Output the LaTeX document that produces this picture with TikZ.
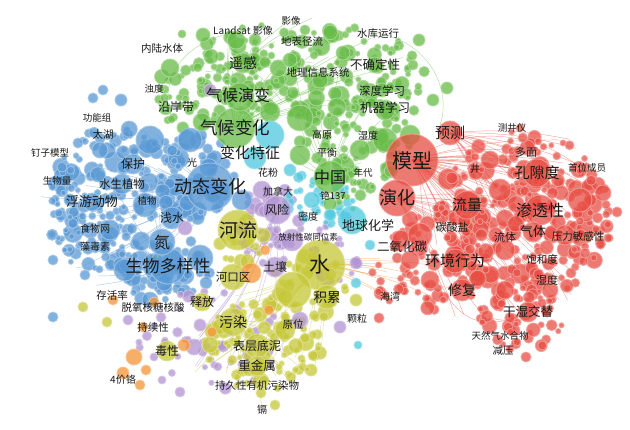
\documentclass[tikz,border=0pt]{standalone}
\usepackage{fontspec}
\newfontfamily\cjk{Noto Sans CJK SC}
\definecolor{cG}{RGB}{104,188,72}
\definecolor{cB}{RGB}{88,152,212}
\definecolor{cR}{RGB}{232,78,68}
\definecolor{cY}{RGB}{198,200,56}
\definecolor{cP}{RGB}{178,148,210}
\definecolor{cO}{RGB}{245,148,52}
\definecolor{cC}{RGB}{78,200,222}
\tikzset{
  lab/.style={inner sep=0pt, text=black!90, font=\cjk\fontsize{#1pt}{#1pt}\selectfont},
  bubfill/.style={fill=#1, fill opacity=0.75, draw=#1!55!white, draw opacity=0.85, line width=0.9pt},
  edge/.style={draw=#1, line width=0.45pt, opacity=0.5}
}
\newcommand\bb[4]{\path[bubfill=#1] (#2,#3) circle[radius=#4pt];}
\newcommand\cloud[8]{%
 \foreach \k in {1,...,#6}{%
  \pgfmathsetmacro\qa{360*rnd}%
  \pgfmathsetmacro\qd{sqrt(rnd)}%
  \pgfmathsetmacro\qr{#7+#8*rnd*rnd}%
  \pgfmathsetmacro\qx{#2+#4*\qd*cos(\qa)}%
  \pgfmathsetmacro\qy{#3+#5*\qd*sin(\qa)}%
  \bb{#1}{\qx}{\qy}{\qr}%
 }}
\newcommand\spokes[8]{%
 \foreach \k in {1,...,#8}{%
  \pgfmathsetmacro\qa{360*rnd}%
  \pgfmathsetmacro\qd{sqrt(rnd)}%
  \pgfmathsetmacro\qx{#4+#6*\qd*cos(\qa)}%
  \pgfmathsetmacro\qy{#5+#7*\qd*sin(\qa)}%
  \draw[edge=#1] (#2,#3) to[bend left=8] (\qx,\qy);%
 }}
\begin{document}
\begin{tikzpicture}[x=1pt,y=-1pt]
\useasboundingbox[fill=white] (0,0) rectangle (630,429);
\pgfmathsetseed{7}
% ---------------- edges
\spokes{cG}{235}{128}{300}{70}{110}{50}{25}
\spokes{cG}{330}{177}{330}{110}{70}{60}{15}
\spokes{cG}{243}{63}{280}{60}{90}{45}{12}
\spokes{cB}{210}{187}{120}{200}{80}{80}{30}
\spokes{cB}{168}{266}{120}{230}{70}{60}{15}
\spokes{cR}{412}{160}{520}{220}{90}{90}{40}
\spokes{cR}{450}{133}{540}{220}{80}{90}{15}
\spokes{cR}{397}{198}{500}{260}{80}{70}{15}
\spokes{cY}{320}{265}{265}{340}{70}{50}{20}
\spokes{cY}{233}{322}{250}{350}{70}{50}{15}
\spokes{cP}{277}{210}{230}{330}{80}{60}{12}
\spokes{cO}{320}{265}{400}{280}{40}{30}{8}
\draw[edge=cG] (372,32) .. controls (430,40) and (452,90) .. (440,125);
\draw[edge=cG] (250,30) .. controls (200,35) and (170,60) .. (168,95);
\draw[edge=cR] (420,180) .. controls (430,330) and (480,335) .. (528,312);
\draw[edge=cR] (455,261) .. controls (470,320) and (500,330) .. (528,312);
\draw[edge=cR] (412,160) .. controls (470,120) and (560,130) .. (603,193);
\draw[edge=cO] (320,265) -- (390,297);
\draw[edge=cO] (320,265) -- (455,261);
\draw[edge=cO] (320,265) -- (462,290);
\draw[edge=cY] (257,366) -- (262,410);
% ---------------- random bubbles
\cloud{cG}{300}{70}{110}{50}{170}{2.5}{8}
\cloud{cG}{355}{140}{55}{45}{70}{2.5}{8}
\cloud{cG}{195}{95}{40}{35}{45}{2.5}{6}
\cloud{cG}{400}{80}{25}{40}{22}{2.5}{5}
\cloud{cB}{120}{200}{70}{75}{180}{2.5}{8}
\cloud{cB}{190}{175}{45}{45}{60}{3}{9}
\cloud{cB}{165}{270}{45}{35}{60}{3}{8}
\cloud{cB}{75}{220}{25}{55}{35}{2.5}{4}
\cloud{cP}{270}{225}{35}{40}{45}{2.5}{7}
\cloud{cP}{210}{340}{75}{50}{50}{2.5}{4}
\cloud{cP}{335}{255}{25}{35}{20}{2.5}{5}
\cloud{cC}{320}{200}{35}{30}{35}{2.5}{5}
\cloud{cG}{345}{190}{30}{25}{20}{2.5}{5}
\cloud{cY}{265}{345}{65}{45}{100}{2.5}{7}
\cloud{cY}{310}{290}{40}{35}{35}{3}{8}
\cloud{cY}{240}{240}{25}{25}{15}{3}{6}
\cloud{cR}{525}{215}{85}{85}{230}{2.5}{9}
\cloud{cR}{440}{255}{50}{55}{80}{2.5}{8}
\cloud{cR}{520}{320}{45}{30}{55}{2.5}{6}
\cloud{cR}{590}{220}{25}{40}{22}{3}{6}
\cloud{cR}{392}{282}{22}{22}{14}{3}{5}
% ---------------- hubs green
\foreach \x/\y/\r in {235/128/20,240/97/14,243/63/10,330/177/16,300/118/13,270/112/10,337/107/9,
 375/65/8,385/110/10,382/90/7,410/135/10,360/150/10,300/155/10,170/68/9,290/60/7,343/53/7,
 320/80/8,202/122/9,255/40/6,305/30/5,385/140/12,182/34/4,203/35/7,419/40/6,413/65/5,447/88/6,433/100/6}
 {\bb{cG}{\x}{\y}{\r}}
% hubs blue
\foreach \x/\y/\r in {210/187/24,168/266/18,162/242/13,150/140/14,190/140/12,133/164/10,122/184/10,
 92/202/9,172/218/11,200/258/13,125/270/11,110/230/10,145/205/12,242/200/10,150/300/8,70/200/6,
 100/150/8,103/90/5,93/98/5,121/100/6,78/143/5,62/167/5,53/260/5,85/275/5,53/317/5}
 {\bb{cB}{\x}{\y}{\r}}
% hubs purple
\foreach \x/\y/\r in {277/210/14,275/267/10,292/240/11,262/190/9,194/347/8,300/320/8,340/327/6,
 356/263/6,210/90/6,185/228/7,200/325/6,128/320/5,154/357/4,162/380/4,180/392/5}
 {\bb{cP}{\x}{\y}{\r}}
% hubs cyan
\foreach \x/\y/\r in {270/135/14,255/158/11,352/220/14,312/200/8,330/215/6,356/283/5,358/345/4,
 290/170/6,370/245/5}
 {\bb{cC}{\x}{\y}{\r}}
% hubs yellow
\foreach \x/\y/\r in {320/265/25,238/230/20,233/277/13,327/297/12,293/290/18,233/322/14,257/346/12,
 257/366/10,202/302/9,167/351/10,285/330/10,210/345/8,83/307/5,107/322/5,275/405/5,261/393/5,
 291/377/5,356/300/6}
 {\bb{cY}{\x}{\y}{\r}}
% hubs orange
\foreach \x/\y/\r in {251/273/10,134/357/8,123/373/6,146/370/5,143/327/5,154/302/5,113/300/5,
 184/345/6,212/332/5,269/310/5,265/250/5,140/385/5}
 {\bb{cO}{\x}{\y}{\r}}
% hubs red
\foreach \x/\y/\r in {412/160/26,397/198/18,450/133/12,537/173/14,540/210/15,467/205/14,455/261/12,
 462/290/11,528/312/10,533/232/10,500/190/11,580/200/12,565/235/10,505/250/10,420/235/12,
 490/160/9,430/280/9,550/290/8,505/290/9,410/260/9,617/212/5,603/193/8,585/253/5,571/273/5,
 379/318/5,520/128/4,526/357/5}
 {\bb{cR}{\x}{\y}{\r}}
% ---------------- labels
\node[lab=9.5] (t1) at (291,21) {影像};
\node[lab=10] (t2) at (243,31) {Landsat 影像};
\node[lab=10.5] (t3) at (378,34) {水库运行};
\node[lab=10.5] (t4) at (162,49) {内陆水体};
\node[lab=10.5] (t5) at (302,42) {地表径流};
\node[lab=14] (t6) at (243,63) {遥感};
\node[lab=12.5] (t7) at (375,65) {不确定性};
\node[lab=10.5] (t8) at (318,72) {地理信息系统};
\node[lab=11.5] (t9) at (382,91) {深度学习};
\node[lab=16] (t10) at (238,95) {气候演变};
\node[lab=12.5] (t11) at (385,108) {机器学习};
\node[lab=9.5] (t12) at (154,89) {浊度};
\node[lab=12] (t13) at (176,107) {沿岸带};
\node[lab=9.5] (t14) at (97,118) {功能组};
\node[lab=10.5] (t15) at (103,135) {太湖};
\node[lab=17.5] (t16) at (235,128) {气候变化};
\node[lab=10] (t17) at (322,135) {高原};
\node[lab=10] (t18) at (368,136) {湿度};
\node[lab=15] (t19) at (450,133) {预测};
\node[lab=9.5] (t20) at (512,128) {测井仪};
\node[lab=15] (t21) at (250,153) {变化特征};
\node[lab=10] (t22) at (327,153) {平衡};
\node[lab=20] (t23) at (412,161) {模型};
\node[lab=11] (t24) at (526,152) {多面};
\node[lab=9.5] (t25) at (50,153) {钉子模型};
\node[lab=12] (t26) at (133,164) {保护};
\node[lab=10] (t27) at (192,163) {光};
\node[lab=10] (t28) at (268,173) {花粉};
\node[lab=16] (t29) at (330,177) {中国};
\node[lab=9.5] (t30) at (363,173) {年代};
\node[lab=10] (t31) at (475,169) {井};
\node[lab=15] (t32) at (537,173) {孔隙度};
\node[lab=9.5] (t33) at (587,168) {首位成员};
\node[lab=9.5] (t34) at (57,181) {生物量};
\node[lab=11.5] (t35) at (122,184) {水生植物};
\node[lab=18] (t36) at (210,187) {动态变化};
\node[lab=10] (t37) at (278,192) {加拿大};
\node[lab=9.5] (t38) at (333,196) {铯137};
\node[lab=18] (t39) at (397,198) {演化};
\node[lab=15] (t40) at (467,205) {流量};
\node[lab=13] (t41) at (92,202) {浮游动物};
\node[lab=9.5] (t42) at (147,201) {植物};
\node[lab=16] (t43) at (540,210) {渗透性};
\node[lab=12] (t44) at (277,210) {风险};
\node[lab=12] (t45) at (172,218) {浅水};
\node[lab=10] (t46) at (308,217) {密度};
\node[lab=19] (t47) at (238,230) {河流};
\node[lab=13] (t48) at (368,226) {地球化学};
\node[lab=11] (t49) at (452,227) {碳酸盐};
\node[lab=13] (t50) at (533,232) {气体};
\node[lab=11] (t51) at (505,237) {流体};
\node[lab=10.5] (t52) at (578,237) {压力敏感性};
\node[lab=10] (t53) at (95,229) {食物网};
\node[lab=8.5] (t54) at (308,237) {放射性碳同位素};
\node[lab=16] (t55) at (162,242) {氮};
\node[lab=10] (t56) at (95,247) {藻毒素};
\node[lab=12.5] (t57) at (402,247) {二氧化碳};
\node[lab=15] (t58) at (455,261) {环境行为};
\node[lab=10.5] (t59) at (542,259) {饱和度};
\node[lab=17] (t60) at (168,266) {生物多样性};
\node[lab=21] (t61) at (320,265) {水};
\node[lab=12] (t62) at (275,267) {土壤};
\node[lab=11.5] (t63) at (233,277) {河口区};
\node[lab=11] (t64) at (547,280) {湿度};
\node[lab=14] (t65) at (462,290) {修复};
\node[lab=10] (t66) at (390,297) {海湾};
\node[lab=13.5] (t67) at (327,297) {积累};
\node[lab=10.5] (t68) at (112,295) {存活率};
\node[lab=10.5] (t69) at (153,307) {脱氧核糖核酸};
\node[lab=12] (t70) at (202,302) {释放};
\node[lab=12.5] (t71) at (528,312) {干湿交替};
\node[lab=10] (t72) at (357,319) {颗粒};
\node[lab=14] (t73) at (233,322) {污染};
\node[lab=10.5] (t74) at (293,324) {原位};
\node[lab=10.5] (t75) at (153,328) {持续性};
\node[lab=9.5] (t76) at (500,336) {天然气水合物};
\node[lab=12] (t77) at (257,346) {表层底泥};
\node[lab=12] (t78) at (167,351) {毒性};
\node[lab=10.5] (t79) at (503,351) {减压};
\node[lab=12.5] (t80) at (257,366) {重金属};
\node[lab=10] (t81) at (123,380) {4价铬};
\node[lab=10.5] (t82) at (257,386) {持久性有机污染物};
\node[lab=10] (t83) at (262,410) {镉};
\end{tikzpicture}
\end{document}
